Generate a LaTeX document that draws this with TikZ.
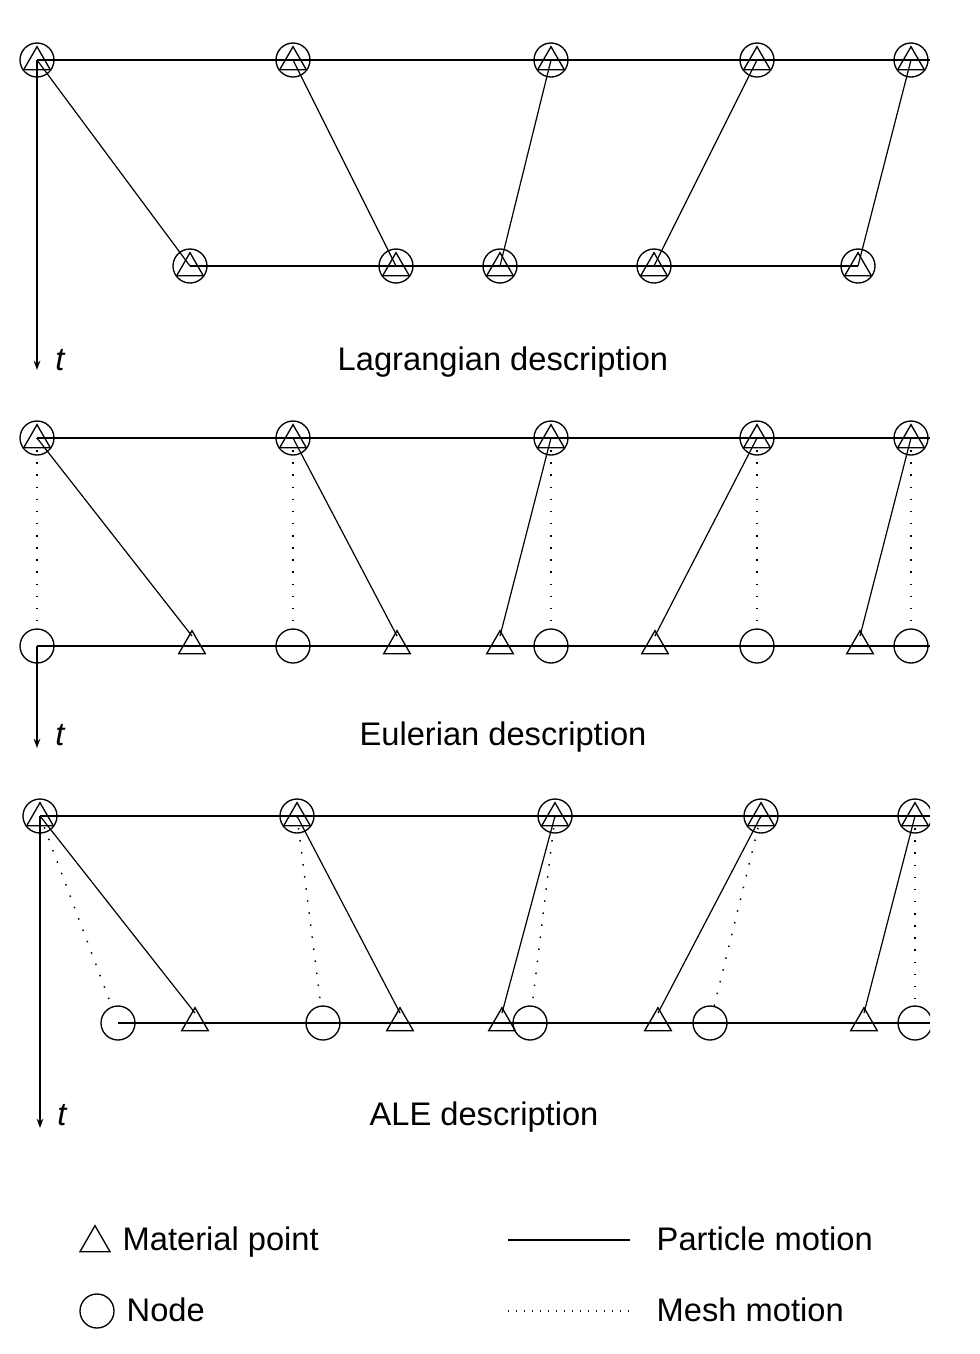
\documentclass[tikz,border=0pt]{standalone}
\usepackage{fontspec}
\setmainfont{Liberation Sans}
\usetikzlibrary{shapes.geometric,arrows.meta}
\begin{document}
\begin{tikzpicture}[x=0.75pt,y=-0.75pt,
  nd/.style={circle,draw,line width=1pt,minimum size=25.5pt,inner sep=0pt},
  mp/.style={regular polygon,regular polygon sides=3,draw,line width=1pt,minimum size=23pt,inner sep=0pt},
  grid/.style={line width=1.8pt},
  part/.style={line width=0.9pt},
  mesh/.style={line width=1.1pt,dash pattern=on 1.1pt off 8pt},
  ax/.style={line width=1.3pt,-{Stealth[length=7pt,width=5pt]}},
  lab/.style={font=\fontsize{24.5}{28}\selectfont,anchor=base}]
\useasboundingbox (0,0) rectangle (980,1354);
\begin{scope}
\clip (0,0) rectangle (930,1354);
% ---- Lagrangian
\foreach \i/\x in {1/37,2/293,3/551,4/757,5/911}{
  \node[nd] (La\i) at (\x,60) {}; \node[mp] at (\x,62) {};}
\foreach \i/\x in {1/190,2/396,3/500,4/654,5/858}{
  \node[nd] (Lb\i) at (\x,266) {}; \node[mp] at (\x,268) {};}
\draw[grid] (La1.center) -- (La5.center) -- (930,60);
\draw[grid] (Lb1.center) -- (Lb5.center);
\foreach \i in {1,...,5}{\draw[part] (La\i.center) -- (Lb\i.center);}
\coordinate (Lt) at (37,370);
\draw[ax] (La1.center) -- (Lt);
% ---- Eulerian
\foreach \i/\x in {1/37,2/293,3/551,4/757,5/911}{
  \node[nd] (Ea\i) at (\x,438) {}; \node[mp] at (\x,440) {};
  \node[nd] (Ec\i) at (\x,646) {};}
\foreach \i/\x in {1/192,2/397,3/500,4/655,5/860}{
  \node[mp] (Eb\i) at (\x,646) {}; \coordinate (Ebp\i) at (\x,636);}
\draw[grid] (Ea1.center) -- (Ea5.center) -- (930,438);
\draw[line width=1.3pt] (Ec1.center) -- (Ec5.center) -- (930,646);
\foreach \i in {1,...,5}{\draw[part] (Ea\i.center) -- (Ebp\i); \draw[mesh] (Ea\i.center) -- (Ec\i.north);}
\coordinate (Et) at (37,748);
\draw[ax] (Ec1.center) -- (Et);
% ---- ALE
\foreach \i/\x in {1/40,2/297,3/555,4/761,5/915}{
  \node[nd] (Aa\i) at (\x,816) {}; \node[mp] at (\x,818) {};}
\foreach \i/\x in {1/118,2/323,3/530,4/710,5/915}{\node[nd] (Ac\i) at (\x,1023) {};}
\foreach \i/\x in {1/195,2/400,3/502,4/658,5/864}{
  \node[mp] (Ab\i) at (\x,1023) {}; \coordinate (Abp\i) at (\x,1013);}
\draw[grid] (Aa1.center) -- (Aa5.center) -- (930,816);
\draw[line width=1.3pt] (Ac1.center) -- (Ac5.center) -- (930,1023);
\foreach \i in {1,...,5}{\draw[part] (Aa\i.center) -- (Abp\i); \draw[mesh] (Aa\i.center) -- (Ac\i);}
\coordinate (At) at (40,1128);
\draw[ax] (Aa1.center) -- (At);
\end{scope}
\node[lab] (tl1) at (60,370) {\itshape t};
\node[lab] (tl2) at (60,745) {\itshape t};
\node[lab] (tl3) at (62,1125) {\itshape t};
\node[lab] (d1) at (503,370) {Lagrangian description};
\node[lab] (d2) at (503,745) {Eulerian description};
\node[lab] (d3) at (484,1125) {ALE description};
% ---- legend
\node[mp,minimum size=26pt] (lgm) at (95,1243) {};
\node[nd] (lgn) at (97,1311) {};
\node[lab,anchor=base west] (tm) at (118,1250) {Material point};
\node[lab,anchor=base west] (tn) at (122,1321) {Node};
\coordinate (p1) at (508,1240); \coordinate (p2) at (630,1240);
\coordinate (m1) at (508,1311); \coordinate (m2) at (630,1311);
\draw[part] (p1) -- (p2);
\draw[mesh,dash pattern=on 1pt off 5pt] (m1) -- (m2);
\node[lab,anchor=base west] (tp) at (652,1250) {Particle motion};
\node[lab,anchor=base west] (tmm) at (652,1321) {Mesh motion};
\end{tikzpicture}
\end{document}
